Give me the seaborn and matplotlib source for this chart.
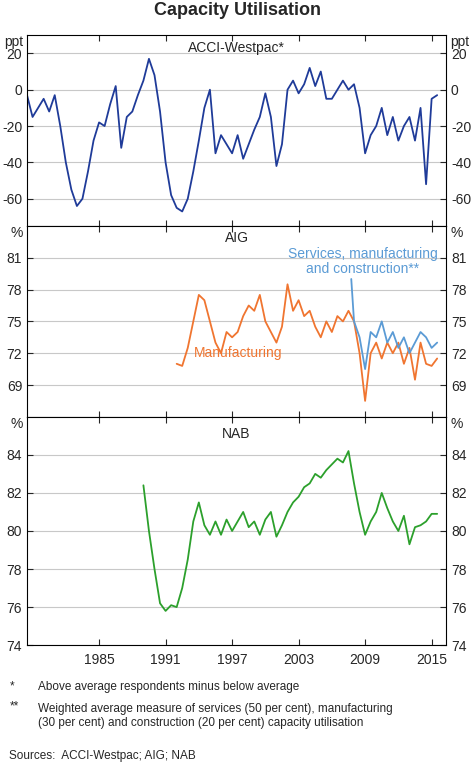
import numpy as np
import pandas as pd
import seaborn as sns
import matplotlib.pyplot as plt

# ACCI-Westpac, half-yearly readings (ppt)
acci_year = np.arange(1978.5, 2016.0, 0.5)
acci_val = [-3, -15, -10, -5, -12, -3, -20, -40, -55, -64, -60, -45, -28, -18, -20, -8,
            2, -32, -15, -12, -3, 5, 17, 8, -12, -40, -58, -65, -67, -60, -45, -28,
            -10, 0, -35, -25, -30, -35, -25, -38, -30, -22, -15, -2, -15, -42, -30, 0,
            5, -2, 3, 12, 2, 10, -5, -5, 0, 5, 0, 3, -10, -35, -25, -20, -10, -25,
            -15, -28, -20, -15, -28, -10, -52, -5, -3]

# AIG manufacturing (index)
aig_year = np.arange(1992.0, 2016.0, 0.5)
aig_manu = [71, 70.8, 72.5, 75, 77.5, 77, 75, 73, 72, 74, 73.5, 74, 75.5, 76.5, 76, 77.5,
            75, 74, 73, 74.5, 78.5, 76, 77, 75.5, 76, 74.5, 73.5, 75, 74, 75.5, 75, 76,
            75, 72, 67.5, 72, 73, 71.5, 73, 72, 73, 71, 72.5, 69.5, 73, 71, 70.8, 71.5]

# AIG services, manufacturing and construction
smc_year = [2007.75, 2008.0, 2008.5, 2009.0, 2009.5, 2010.0, 2010.5, 2011.0, 2011.5,
            2012.0, 2012.5, 2013.0, 2013.5, 2014.0, 2014.5, 2015.0, 2015.5]
smc_val = [79, 75, 73.5, 70.5, 74, 73.5, 75, 73, 74, 72.5, 73.5, 72, 73, 74, 73.5, 72.5, 73]

# NAB (per cent)
nab_year = np.arange(1989.0, 2016.0, 0.5)
nab_val = [82.4, 80, 78, 76.2, 75.8, 76.1, 76, 77, 78.5, 80.5, 81.5, 80.3, 79.8, 80.5,
           79.8, 80.6, 80, 80.5, 81, 80.2, 80.5, 79.8, 80.6, 81, 79.7, 80.3, 81, 81.5,
           81.8, 82.3, 82.5, 83, 82.8, 83.2, 83.5, 83.8, 83.6, 84.2, 82.5, 81, 79.8,
           80.5, 81, 82, 81.2, 80.5, 80, 80.8, 79.3, 80.2, 80.3, 80.5, 80.9, 80.9]

sns.set_style("white")
plt.rcParams['font.family'] = ['Liberation Sans', 'DejaVu Sans']

fig = plt.figure(figsize=(4.74, 7.82), dpi=100)
left, width = 0.057, 0.884
ax1 = fig.add_axes([left, 0.711, width, 0.244])
ax2 = fig.add_axes([left, 0.467, width, 0.244])
ax3 = fig.add_axes([left, 0.175, width, 0.292])

sns.lineplot(x=acci_year, y=acci_val, ax=ax1, color='#1f3b99', lw=1.3)
sns.lineplot(x=aig_year, y=aig_manu, ax=ax2, color='#f07530', lw=1.3)
sns.lineplot(x=smc_year, y=smc_val, ax=ax2, color='#5b9bd5', lw=1.3)
sns.lineplot(x=nab_year, y=nab_val, ax=ax3, color='#2ca02c', lw=1.3)

setups = [
    (ax1, (-75, 30), [-60, -40, -20, 0, 20], 'ppt', 'ACCI-Westpac*'),
    (ax2, (66, 84), [69, 72, 75, 78, 81], '%', 'AIG'),
    (ax3, (74, 86), [74, 76, 78, 80, 82, 84], '%', 'NAB'),
]
for ax, ylim, yt, unit, name in setups:
    ax.set_xlim(1978.5, 2016.3)
    ax.set_ylim(*ylim)
    ax.set_yticks(yt)
    ax.grid(True, axis='y', color='#c8c8c8', lw=0.8)
    ax.set_xticks([1985, 1991, 1997, 2003, 2009, 2015])
    ax.tick_params(axis='both', direction='in', labelsize=10, right=True,
                   labelright=True, left=True, bottom=True, top=True, length=4)
    ax.set_xticklabels([])
    for s in ax.spines.values():
        s.set_color('black')
        s.set_linewidth(0.8)
    ax.set_ylabel('')
    ax.set_title(name, y=0.87, fontsize=10)
    ax.text(-0.01, 1.0, unit, transform=ax.transAxes, ha='right', va='top', fontsize=10)
    ax.text(1.01, 1.0, unit, transform=ax.transAxes, ha='left', va='top', fontsize=10)

ax1.set_yticklabels(['-60', '-40', '-20', '0', '20'])
ax3.set_xticklabels(['1985', '1991', '1997', '2003', '2009', '2015'])
ax3.tick_params(axis='x', pad=6)

ax2.text(1997.5, 71.6, 'Manufacturing', color='#f07530', fontsize=10, ha='center')
ax2.text(2008.8, 79.6, 'Services, manufacturing\nand construction**', color='#5b9bd5',
         fontsize=10, ha='center', linespacing=1.1)

fig.suptitle('Capacity Utilisation', y=0.998, fontsize=13, fontweight='bold')
fig.text(0.02, 0.118, '*', fontsize=8.5)
fig.text(0.08, 0.118, 'Above average respondents minus below average', fontsize=8.5)
fig.text(0.02, 0.093, '**', fontsize=8.5)
fig.text(0.08, 0.072, 'Weighted average measure of services (50 per cent), manufacturing\n'
         '(30 per cent) and construction (20 per cent) capacity utilisation', fontsize=8.5)
fig.text(0.02, 0.03, 'Sources:  ACCI-Westpac; AIG; NAB', fontsize=8.5)

fig.savefig('out.png', dpi=100)
